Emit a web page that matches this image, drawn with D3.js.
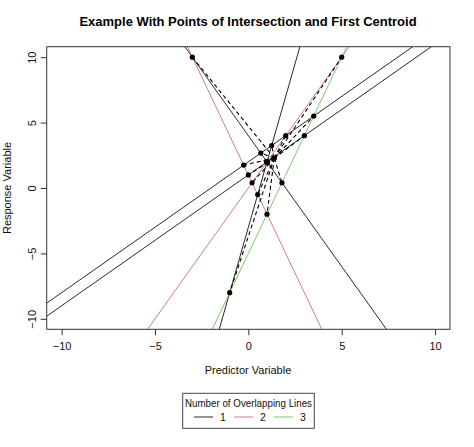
<!DOCTYPE html>
<html><head><meta charset="utf-8">
<script src="https://cdn.jsdelivr.net/npm/d3@7"></script>
<style>body{margin:0;background:#fff}svg{display:block;font-family:"Liberation Sans",Arial,sans-serif}</style>
</head><body><svg id="c" width="474" height="447"></svg>
<script>
// Lines y = slope*x + intercept
const lineSlopes = [1, 1, 5, -2, -3, 2, 3];
const lineIntercepts = [2, 1, -3, 4, 1, 0, -5];
const lineOverlap = [1, 1, 1, 1, 2, 2, 3];
// Points of intersection
const pointX = [1.25, 0.667, -0.25, 2, 3.5, 1, 0, 3, 0.5, -1, -3, 1.8, 0.2, 1, 5];
const pointY = [3.25, 2.667, 1.75, 4, 5.5, 2, 1, 4, -0.5, -8, 10, 0.4, 0.4, -2, 10];
// First centroid
const centroid = [1.39, 2.28];
const tickValues = [-10, -5, 0, 5, 10];
const legendLabels = ["1", "2", "3"];
const overlapColors = {1: "#2a2a2a", 2: "#D27A8C", 3: "#7ACB6C"};

const svg = d3.select("#c");
const x = d3.scaleLinear().domain([-10.8, 10.8]).range([46.7, 450]);
const y = d3.scaleLinear().domain([-10.8, 10.8]).range([329.3, 46.7]);
const [x0, x1] = x.range(), [y0, y1] = [y.range()[1], y.range()[0]];

svg.append("defs").append("clipPath").attr("id", "clip")
  .append("rect").attr("x", x0).attr("y", y0).attr("width", x1 - x0).attr("height", y1 - y0);

const plot = svg.append("g").attr("clip-path", "url(#clip)");
const xs = [-10.8, 10.8];
lineSlopes.forEach((m, i) => {
  const b = lineIntercepts[i];
  plot.append("line")
    .attr("x1", x(xs[0])).attr("y1", y(m * xs[0] + b))
    .attr("x2", x(xs[1])).attr("y2", y(m * xs[1] + b))
    .attr("stroke", overlapColors[lineOverlap[i]]).attr("stroke-width", 1);
});

// dashed segments from centroid to each intersection
pointX.forEach((px, i) => {
  plot.append("line")
    .attr("x1", x(centroid[0])).attr("y1", y(centroid[1]))
    .attr("x2", x(px)).attr("y2", y(pointY[i]))
    .attr("stroke", "#000").attr("stroke-width", 1.1).attr("stroke-dasharray", "4,3");
});
pointX.forEach((px, i) => {
  plot.append("circle").attr("cx", x(px)).attr("cy", y(pointY[i]))
    .attr("r", (px === 1 && pointY[i] === 2) ? 3.2 : 2.6).attr("fill", "#000");
});
plot.append("circle").attr("cx", x(centroid[0])).attr("cy", y(centroid[1])).attr("r", 2.6).attr("fill", "#000");

// box
svg.append("rect").attr("x", x0).attr("y", y0).attr("width", x1 - x0).attr("height", y1 - y0)
  .attr("fill", "none").attr("stroke", "#333").attr("stroke-width", 1);

// axes
const xa = svg.append("g").attr("transform", `translate(0,${y1})`)
  .call(d3.axisBottom(x).tickValues(tickValues).tickSize(6).tickFormat(d3.format("d")));
xa.select(".domain").remove();
xa.selectAll("line").attr("stroke", "#333");
xa.selectAll("text").attr("y", 17).attr("dy", "0.35em").attr("font-size", 11).attr("fill", "#111")
  .attr("font-family", "Liberation Sans, Arial, sans-serif");

const ya = svg.append("g").attr("transform", `translate(${x0},0)`)
  .call(d3.axisLeft(y).tickValues(tickValues).tickSize(6).tickFormat(d3.format("d")));
ya.select(".domain").remove();
ya.selectAll("line").attr("stroke", "#333");
ya.selectAll("text").attr("x", 0).attr("dy", null)
  .attr("transform", "translate(-15,0) rotate(-90)")
  .attr("text-anchor", "middle").attr("dominant-baseline", "central")
  .attr("font-size", 11).attr("fill", "#111")
  .attr("font-family", "Liberation Sans, Arial, sans-serif");

// titles
svg.append("text").attr("x", 248).attr("y", 26).attr("text-anchor", "middle")
  .attr("font-weight", "bold").attr("font-size", 13).attr("fill", "#000")
  .text("Example With Points of Intersection and First Centroid");
svg.append("text").attr("x", 248).attr("y", 374).attr("text-anchor", "middle")
  .attr("font-size", 11).attr("fill", "#111").text("Predictor Variable");
svg.append("text").attr("transform", "translate(11,188) rotate(-90)").attr("text-anchor", "middle")
  .attr("font-size", 11).attr("fill", "#111").text("Response Variable");

// legend
const lg = svg.append("g");
lg.append("rect").attr("x", 182.7).attr("y", 393.3).attr("width", 131.6).attr("height", 35)
  .attr("fill", "#fff").attr("stroke", "#444").attr("stroke-width", 1);
lg.append("text").attr("x", 248.5).attr("y", 406.5).attr("text-anchor", "middle")
  .attr("font-size", 10).attr("textLength", 127).attr("lengthAdjust", "spacingAndGlyphs")
  .attr("fill", "#111").text("Number of Overlapping Lines");
const legX = d3.scalePoint().domain(legendLabels).range([194, 274]);
legendLabels.forEach((lab) => {
  const sx = legX(lab);
  lg.append("line").attr("x1", sx).attr("x2", sx + 19).attr("y1", 417).attr("y2", 417)
    .attr("stroke", overlapColors[+lab]).attr("stroke-width", 1);
  lg.append("text").attr("x", sx + 29).attr("y", 421).attr("text-anchor", "middle")
    .attr("font-size", 10.5).attr("fill", "#111").text(lab);
});
</script></body></html>
